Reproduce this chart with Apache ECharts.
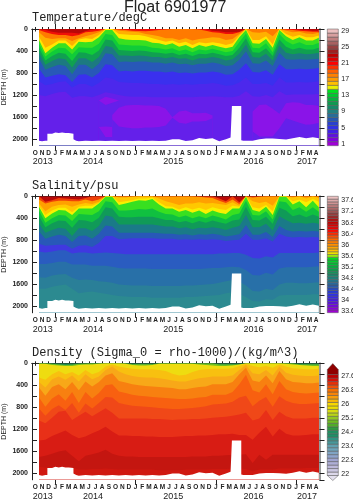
<!DOCTYPE html>
<html><head><meta charset="utf-8">
<style>html,body{margin:0;padding:0;background:#fff}#c{width:353px;height:500px;filter:blur(0.4px)}</style>
<script src="https://cdn.jsdelivr.net/npm/echarts@6/dist/echarts.min.js"></script>
</head><body><div id="c"></div>
<script>
const months=['O','N','D','J','F','M','A','M','J','J','A','S','O','N','D','J','F','M','A','M','J','J','A','S','O','N','D','J','F','M','A','M','J','J','A','S','O','N','D','J','F','M','A'];
const yearLabels=['2013','2014','2015','2016','2017'];
const yearSlots=[6,36,84,132,164];
const profileX=[1.05,2,3,4,5,6,7,8,9,10,11,12,13,14,15,16,17,18,19,20,21,22,23,24,25,26,27,28,29,30,31,32,33,34,35,36,37,38,39,40,41,42,42.9];
const bottomX=[1.05,1.5,2,2.3,2.3,3,3.5,4,4.5,5,5.5,6.2,6.2,6.6,7,8,9,10,11,12,13,14,15,16,17,18,19,20,21,22,23,24,25,26,27,28,29,29.7,29.9,29.9,31.3,31.3,31.6,32,33,34,35,36,37,38,39,40,41,42,42.9];
const bottomDepth=[2030,2040,2030,2030,1900,1900,1880,1890,1880,1890,1890,1900,2000,2030,2040,2030,2035,2030,2035,2030,2035,2030,2035,2030,2035,2030,2035,2030,2000,2000,2035,2020,1980,1995,1985,2040,2000,1970,1960,1400,1400,2020,2030,2030,2030,2000,1990,1990,1995,2005,1985,1960,1985,1965,1985];

// Temperature isotherm depths (m), one value per profile
const temp23=[0,20,50,70,70,70,80,40,10,0, 0,0,0,0,0,0,0,0,0,0, 0,0,0,0,0,0,30,40,60,60, 50,0,0,0,0,0,0,0,0,10,20,30,30];
const temp20=[20,60,90,110,110,130,110,60,50,30, 0,0,10,20,30,35,40,30,20,10, 0,0,0,0,10,30,60,70,90,90, 60,0,0,0,0,0,0,10,20,30,40,50,50];
const temp18=[60,160,180,170,170,220,170,130,100,60, 0,0,30,40,50,60,90,110,130,170, 170,200,170,210,180,170,150,160,200,180, 90,0,60,70,50,130,0,30,60,50,80,90,70];
const temp16=[140,340,280,210,210,310,190,170,180,110, 0,0,90,100,110,110,130,170,200,230, 210,260,230,290,240,260,240,260,290,260, 120,0,200,200,130,280,0,90,140,110,150,150,120];
const temp15=[200,440,340,260,260,370,230,240,230,150, 20,20,170,190,200,200,210,250,260,290, 260,320,290,350,290,320,290,320,350,320, 150,20,260,270,180,340,20,130,200,150,210,210,160];
const temp13=[270,500,410,340,350,460,330,340,340,270, 90,110,280,290,300,300,310,340,350,370, 350,400,370,420,370,390,360,390,420,400, 240,80,340,350,260,420,90,220,280,240,290,290,250];
const temp11=[340,570,490,430,450,580,420,430,470,390, 190,210,380,390,400,390,400,420,430,450, 430,470,450,490,450,460,430,460,490,470, 340,170,420,430,350,490,190,320,370,340,370,370,340];
const temp9=[430,650,580,530,550,700,530,530,600,510, 310,330,480,480,490,480,490,510,510,530, 510,540,530,570,530,530,510,530,570,550, 450,280,510,520,450,570,300,430,460,440,460,450,430];
const temp7=[540,740,690,650,670,820,650,650,730,630, 440,460,600,590,600,590,590,610,610,630, 610,640,630,660,630,630,610,630,670,660, 560,410,620,630,570,670,430,550,560,550,560,550,540];
const temp6=[720,880,850,820,840,960,830,820,880,800, 640,660,770,760,770,760,760,770,770,790, 770,800,790,810,790,790,770,790,830,820, 740,620,780,790,750,830,640,730,730,720,730,720,710];
const temp5=[950,1020,1000,960,950,1060,1000,1000,1050,980, 880,900,960,970,980,980,990,1000,1000,1010, 1000,1010,1000,1010,1000,1000,980,1000,1030,1020, 970,880,1000,1000,980,1030,880,970,970,960,970,960,950];
const temp4=[1200,1220,1180,1150,1140,1250,1220,1220,1240,1200, 1150,1170,1200,1220,1230,1230,1230,1240,1240,1240, 1240,1240,1240,1240,1230,1230,1220,1230,1240,1240, 1210,1130,1220,1230,1200,1240,1130,1200,1190,1190,1190,1190,1180];
// Cold patch tops and bottoms (m)
const n=null;
const patchATop=[n,n,n,n,n,n,n,n,n,1300, 1230,1260,1300,n,n,n,n,n,n,n, n,n,n,n,n,n,n,n,n,n, n,n,n,n,n,n,n,n,n,n,n,n,n];
const patchABot=[n,n,n,n,n,n,n,n,n,1300, 1380,1340,1300,n,n,n,n,n,n,n, n,n,n,n,n,n,n,n,n,n, n,n,n,n,n,n,n,n,n,n,n,n,n];
const patchBTop=[n,n,n,n,n,n,n,n,n,1780, 1770,1780,1850,n,n,n,n,n,n,n, n,n,n,n,n,n,n,n,n,n, n,n,n,n,n,n,n,n,n,n,n,n,n];
const patchBBot=[n,n,n,n,n,n,n,n,n,1780, 1960,1960,1900,n,n,n,n,n,n,n, n,n,n,n,n,n,n,n,n,n, n,n,n,n,n,n,n,n,n,n,n,n,n];
const patchCTop=[n,n,n,n,n,n,n,n,n,n, n,1560,1430,1390,1380,1380,1390,1390,1400,1450, 1600,1500,1480,1530,1530,1520,1570,n,n,n, n,n,1500,1380,1370,1450,1540,1350,1330,1340,1380,1380,1400];
const patchCBot=[n,n,n,n,n,n,n,n,n,n, n,1640,1770,1790,1800,1800,1790,1790,1780,1750, 1610,1700,1720,1680,1680,1670,1620,n,n,n, n,n,1860,1950,1950,1950,1800,1620,1660,1700,1740,1730,1700];

// Salinity contour depths (m)
const sal365=[0,100,70,30,40,50,60,30,0,0, 0,0,0,0,0,0,0,0,0,0, 0,0,0,0,0,0,0,40,90,0, 110,0,0,0,0,0,0,0,0,0,0,0,0];
const sal362=[60,130,100,80,80,90,90,60,90,60, 0,0,0,0,0,0,0,0,0,0, 0,0,0,0,10,20,30,80,120,60, 140,0,20,10,0,0,0,0,0,0,0,0,0];
const sal360=[130,270,190,160,150,190,150,120,140,100, 0,0,20,20,10,0,0,0,40,90, 120,160,130,130,110,130,120,140,160,110, 170,0,90,120,100,170,0,0,20,0,40,0,30];
const sal358=[170,340,260,210,210,290,190,170,170,120, 0,0,110,90,70,40,40,20,110,180, 190,240,200,240,210,250,200,230,250,170, 190,0,200,220,160,270,0,0,90,60,110,50,100];
const sal356=[190,400,310,250,260,340,220,220,220,130, 10,10,160,130,100,70,80,50,150,220, 220,280,250,300,260,320,260,300,320,220, 220,10,250,280,190,340,10,10,150,90,200,80,200];
const sal353=[260,480,400,340,350,450,320,330,340,270, 90,110,260,260,250,230,240,220,280,320, 330,380,350,400,360,400,350,380,420,340, 310,80,340,350,270,420,90,110,250,200,280,200,280];
const sal350=[360,560,490,440,450,570,430,440,470,390, 200,220,370,380,380,370,370,370,400,430, 430,470,450,490,450,480,440,470,500,440, 420,190,430,440,370,500,210,260,360,330,380,330,370];
const sal347=[500,660,610,570,590,720,580,580,630,540, 350,370,510,510,510,510,510,510,530,550, 550,580,560,600,570,580,560,580,610,570, 540,340,560,560,500,620,360,430,490,480,500,480,500];
const sal345=[640,770,730,700,720,830,720,710,770,680, 530,550,660,660,660,660,660,660,670,680, 680,700,690,710,690,700,680,700,730,710, 690,520,700,700,650,740,540,610,640,630,640,630,640];
const salCoreTop=[860,900,890,880,880,950,900,890,920,850, 720,720,780,770,760,760,760,760,770,770, 770,790,780,790,780,790,780,790,810,800, 790,680,790,790,760,820,680,730,750,740,750,740,750];
const salCoreBot=[1000,1020,1000,980,980,1040,1020,1020,1040,1030, 1020,1030,1040,1050,1050,1050,1050,1050,1050,1050, 1050,1050,1050,1050,1050,1050,1050,1040,1040,1030, 1030,1060,1120,1130,1090,1110,1030,1030,1030,1030,1030,1030,1020];
const salDeep345=[1230,1230,1210,1190,1190,1240,1240,1240,1260,1260, 1260,1280,1300,1310,1310,1310,1310,1320,1320,1320, 1320,1320,1320,1320,1320,1310,1300,1300,1290,1280, 1290,1340,1430,1440,1390,1420,1310,1290,1290,1290,1290,1280,1270];
const salDeep347=[1470,1480,1440,1420,1410,1480,1520,1510,1520,1540, 1550,1570,1600,1610,1620,1620,1620,1630,1630,1630, 1630,1630,1620,1620,1610,1600,1590,1570,1540,1520, 1550,1620,1720,1730,1680,1700,1600,1570,1570,1580,1580,1570,1560];
const salDeep349=[1680,1680,1640,1620,1600,1680,1760,1740,1730,1750, 1770,1790,1810,1820,1830,1830,1830,1840,1840,1840, 1840,1840,1830,1830,1820,1810,1800,1790,1760,1740, 1770,1830,1900,1910,1870,1880,1800,1790,1790,1790,1790,1780,1780];

// Density contour depths (m)
const den248=[0,0,10,20,30,25,10,5,0,0, 0,0,0,0,15,15,15,15,0,0, 0,0,0,0,0,0,0,20,20,20, 20,0,0,0,0,0,0,0,0,20,20,20,20];
const den256=[10,10,30,40,50,50,30,20,20,10, 0,0,0,10,30,40,40,30,10,10, 10,10,10,10,20,30,40,50,50,40, 20,0,0,0,0,0,0,10,20,30,40,50,50];
const den260=[260,300,200,140,200,160,220,120,200,160, 60,20,60,80,100,110,110,110,120,140, 190,220,210,160,120,110,100,100,100,90, 50,10,50,70,50,80,20,60,90,100,110,110,100];
const den263=[340,440,290,240,300,220,330,200,290,240, 120,60,150,200,230,250,260,260,270,290, 310,330,330,300,270,260,240,240,240,220, 120,30,180,200,120,220,60,170,210,220,230,230,220];
const den266=[440,590,430,380,470,340,490,330,420,340, 220,180,320,350,380,400,410,420,430,440, 450,470,470,450,430,420,380,380,380,340, 200,80,310,340,220,360,140,290,340,350,360,360,350];
const den270=[620,790,640,560,680,520,720,520,640,540, 400,380,510,540,570,590,600,610,620,630, 640,650,650,640,620,610,570,570,570,520, 380,210,490,530,380,560,320,470,520,540,550,540,530];
const den272=[820,950,830,760,850,720,900,730,820,720, 610,620,720,750,770,780,790,800,810,820, 830,830,820,810,800,780,750,740,730,700, 620,590,780,680,610,790,600,680,720,740,740,730,720];
const den274=[1040,1090,990,880,860,1030,950,880,960,890, 815,900,1000,1000,1000,1000,1000,1010,1010,1020, 1030,1020,1020,1010,1010,1000,990,980,970,950, 930,900,1040,1000,850,1030,880,960,1000,1000,1000,990,990];
const den276=[1400,1390,1320,1270,1220,1300,1360,1330,1270,1220, 1150,1240,1310,1310,1320,1320,1330,1330,1340,1340, 1340,1330,1320,1320,1310,1310,1300,1290,1290,1280, 1300,1300,1390,1260,1150,1330,1190,1280,1310,1310,1300,1290,1290];
const den2775=[1700,1680,1640,1600,1580,1680,1780,1680,1650,1620, 1570,1640,1680,1690,1690,1700,1700,1700,1700,1700, 1700,1700,1700,1690,1690,1690,1680,1680,1670,1660, 1660,1650,1810,1660,1750,1660,1660,1660,1660,1660,1660,1660,1660];
const den278=[1880,1890,1880,1880,1880,1890,1930,1930,1920,1920, 1910,1920,1930,1930,1930,1930,1930,1930,1940,1940, 1940,1940,1930,1930,1930,1930,1920,1920,1920,1910, 1910,1920,1960,1930,1930,1930,1910,1910,1910,1910,1900,1900,1900];

const tempTicks=[1,2,3,4,5,6,7,8,9,10,11,12,13,14,15,16,17,18,19,20,21,22,23,24,25,26,27,28,29];
const salTicks=['33.6','33.7','33.8','33.9','34','34.1','34.2','34.3','34.4','34.5','34.6','34.7','34.8','34.9','35','35.1','35.2','35.3','35.4','35.5','35.6','35.7','35.8','35.9','36','36.1','36.2','36.3','36.4','36.5','36.6','36.7','36.8','36.9','37','37.1','37.2','37.3','37.4','37.5','37.6','37.7'];
const denTicks=['22','22.2','22.4','22.6','22.8','23','23.2','23.4','23.6','23.8','24','24.2','24.4','24.6','24.8','25','25.2','25.4','25.6','25.8','26','26.2','26.4','26.6','26.8','27','27.2','27.4','27.6'];

const tempPalette=['#a000d8','#8000e0','#6010e0','#4020e8','#3030e8','#2840d0','#2858b0','#286c98','#208080','#188868','#109850','#08b040','#00c830','#00e020','#e8f000','#ffc000','#ff9a00','#ff8000','#ff6000','#ff3000','#ff0000','#e00000','#c00000','#a02020','#984040','#a86060','#c08080','#d8a0a0','#ecc0c0'];
const denPalette=['#dcd8ea','#ccc8e2','#bcb8da','#aeaed6','#a0a4d0','#90a4cc','#80a4c4','#70a4ba','#60a0b0','#48989a','#309484','#209068','#209060','#309c40','#50ac28','#70bc20','#90c820','#b8d418','#d8dc10','#eee000','#f8d800','#f8b808','#f89c08','#f88408','#f87000','#f05008','#e83008','#d81008','#c00000'];

const tempColours=['#b80808','#f01008','#ff7a00','#ffb000','#ffe800','#38e020','#10cc38','#10a050','#1c7a80','#2858b8','#3a30ee','#4c28ec','#6420ea'];
const salColours=['#b80808','#f04008','#ffa000','#ffc800','#f8f000','#38e020','#10c040','#109a58','#1a7a88','#2858b8','#4038e0','#2a5cc0','#2870a8','#2a7f98','#2c8a90'];
const denColours=['#208a50','#70c020','#eedc10','#f8c010','#f8a818','#f88010','#f86010','#f04818','#e83018','#d81c14','#c41610','#d01810'];

const tempLayers=[temp23,temp20,temp18,temp16,temp15,temp13,temp11,temp9,temp7,temp6,temp5,temp4];
const salLayers=[sal365,sal362,sal360,sal358,sal356,sal353,sal350,sal347,sal345,salCoreTop,salCoreBot,salDeep345,salDeep347,salDeep349];
const denLayers=[den248,den256,den260,den263,den266,den270,den272,den274,den276,den2775,den278];

const fontSans='"Liberation Sans",Arial,sans-serif';
const panelTops=[29,196.3,363.3];
const panelH=116.5, left=32, width=287.5;
const grids=[],xAxes=[],yAxes=[],series=[];

function hex(c){return [1,3,5].map(i=>parseInt(c.substr(i,2),16));}
function ramp(p,count){const r=[];for(let i=0;i<count;i++){const f=i/(count-1)*(p.length-1),a=Math.floor(f),b=Math.min(a+1,p.length-1),t=f-a,A=hex(p[a]),B=hex(p[b]);r.push('rgb('+A.map((v,j)=>Math.round(v+(B[j]-v)*t)).join(',')+')');}return r;}

function addPanel(pi,layers,colours,extra){
  const g=grids.length;
  grids.push({left:left,top:panelTops[pi],width:width,height:panelH,outerBoundsMode:'none'});
  const dataX=xAxes.length;
  xAxes.push({type:'value',gridIndex:g,min:0,max:43,show:false});
  const line={show:true,lineStyle:{color:'#222',width:1}};
  const tickAt=f=>({show:true,alignWithLabel:true,interval:f,length:0,lineStyle:{color:'#222',width:1}});
  const isJan=(i)=>months[i]==='J'&&months[i+1]==='F';
  xAxes.push({type:'category',gridIndex:g,data:months,position:'bottom',axisLine:line,axisTick:{...tickAt(0),length:2.5},
    axisLabel:{interval:0,fontSize:6.5,fontWeight:'bold',color:'#222',margin:4,fontFamily:fontSans},splitLine:{show:false}});
  xAxes.push({type:'category',gridIndex:g,data:months,position:'bottom',axisLine:{show:false},axisTick:{...tickAt(isJan),length:5},axisLabel:{show:false}});
  xAxes.push({type:'category',gridIndex:g,data:months,position:'top',axisLine:line,axisTick:{...tickAt(0),length:2},axisLabel:{show:false}});
  xAxes.push({type:'category',gridIndex:g,data:months,position:'top',axisLine:{show:false},axisTick:{...tickAt(isJan),length:5},axisLabel:{show:false}});
  const slots=[];for(let i=0;i<months.length*4;i++){const y=yearSlots.indexOf(i);slots.push(y>=0?yearLabels[y]:'');}
  xAxes.push({type:'category',gridIndex:g,data:slots,position:'bottom',axisLine:{show:false},axisTick:{show:false},
    axisLabel:{interval:0,fontSize:9,color:'#222',margin:12,fontFamily:fontSans,hideOverlap:false}});
  const dataY=yAxes.length;
  yAxes.push({type:'value',gridIndex:g,inverse:true,min:0,max:2115,interval:200,position:'left',
    name:'DEPTH (m)',nameLocation:'middle',nameGap:24,nameRotate:90,nameMoveOverlap:false,nameTextStyle:{fontSize:7,color:'#222',fontFamily:fontSans},
    axisLine:{show:true,lineStyle:{color:'#222',width:1}},axisTick:{show:true,inside:true,length:5,lineStyle:{color:'#222',width:1}},
    axisLabel:{fontSize:7,fontWeight:'bold',color:'#222',margin:4,fontFamily:fontSans,showMaxLabel:false,formatter:v=>v%400===0?String(v):''},splitLine:{show:false}});
  yAxes.push({type:'value',gridIndex:g,inverse:true,min:0,max:2115,interval:200,position:'right',
    axisLine:{show:true,lineStyle:{color:'#9a9a9a',width:2}},axisTick:{show:true,length:5,lineStyle:{color:'#222',width:1}},axisLabel:{show:false},splitLine:{show:false}});
  const area=(xs,ys,color)=>{series.push({type:'line',xAxisIndex:dataX,yAxisIndex:dataY,silent:true,animation:false,symbol:'none',
    connectNulls:false,lineStyle:{width:0},areaStyle:{color:color,opacity:1,origin:'end'},data:xs.map((x,i)=>[x,ys[i]]),z:2});};
  area(profileX,profileX.map(()=>0),colours[0]);
  layers.forEach((d,i)=>area(profileX,d,colours[i+1]));
  (extra||[]).forEach(e=>area(profileX,e[0],e[1]));
  area(bottomX,bottomDepth,'#ffffff');
}
addPanel(0,tempLayers,tempColours,[[patchATop,'#8a14e8'],[patchABot,'#6420ea'],[patchBTop,'#8a14e8'],[patchBBot,'#6420ea'],[patchCTop,'#8a14e8'],[patchCBot,'#6420ea']]);
addPanel(1,salLayers,salColours);
addPanel(2,denLayers,denColours);

function addBar(top,height,ticks,colours,labelEvery,arrows){
  const g=grids.length;
  grids.push({left:327.3,top:top,width:11,height:height,outerBoundsMode:'none'});
  const xi=xAxes.length,yi=yAxes.length;
  xAxes.push({type:'value',gridIndex:g,min:0,max:1,show:false});
  yAxes.push({type:'category',gridIndex:g,data:ticks,position:'right',axisLine:{show:false},axisTick:{show:false},
    axisLabel:{interval:labelEvery-1,fontSize:7,color:'#222',margin:3,fontFamily:fontSans}});
  series.push({type:'custom',xAxisIndex:xi,yAxisIndex:yi,silent:true,animation:false,clip:false,z:3,
    data:ticks.map((t,i)=>[0,i]),
    encode:{x:0,y:1},
    renderItem:(p,api)=>{
      const i=api.value(1),c=api.coord([0,i]),s=api.size([1,1]);
      const st={fill:colours[i],stroke:'#555',lineWidth:0.5};
      const kids=[{type:'rect',shape:{x:c[0],y:c[1]-s[1]/2,width:s[0],height:s[1]},style:st}];
      if(arrows&&i===ticks.length-1)kids.push({type:'polygon',shape:{points:[[c[0],c[1]-s[1]/2],[c[0]+s[0],c[1]-s[1]/2],[c[0]+s[0],c[1]-s[1]/2-5],[c[0]+s[0]/2,c[1]-s[1]/2-11],[c[0],c[1]-s[1]/2-5]]},style:{fill:'#900000',stroke:'#555',lineWidth:0.5}});
      if(arrows&&i===0)kids.push({type:'polygon',shape:{points:[[c[0],c[1]+s[1]/2],[c[0]+s[0],c[1]+s[1]/2],[c[0]+s[0]/2,c[1]+s[1]/2+5]]},style:{fill:'#e4e0ee',stroke:'#555',lineWidth:0.5}});
      return {type:'group',children:kids};
    }});
}
addBar(29,116.7,tempTicks,tempPalette,4,false);
addBar(196.3,116.4,salTicks,ramp(tempPalette,salTicks.length),4,false);
addBar(374.6,100.9,denTicks,denPalette,4,true);

const mono='"Liberation Mono",monospace';
const heading=(text,top)=>({text:text,left:32,top:top,padding:0,textStyle:{fontFamily:mono,fontSize:12,fontWeight:'normal',color:'#222'}});
const chart=echarts.init(document.getElementById('c'),null,{renderer:'canvas'});
chart.setOption({animation:false,backgroundColor:'#fff',
  title:[{text:'Float 6901977',left:124,top:0,padding:0,textStyle:{fontFamily:fontSans,fontSize:16,fontWeight:'normal',color:'#222'}},
    heading('Temperature/degC',12),heading('Salinity/psu',180),heading('Density (Sigma_0 = rho-1000)/(kg/m^3)',347)],
  grid:grids,xAxis:xAxes,yAxis:yAxes,series:series});
</script></body></html>
